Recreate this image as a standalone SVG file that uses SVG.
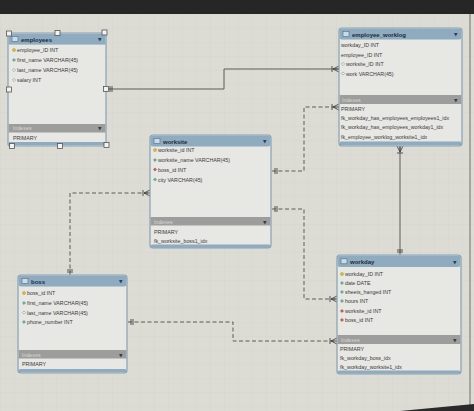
<svg xmlns="http://www.w3.org/2000/svg" width="474" height="411" viewBox="0 0 474 411">
<style>
.body{fill:#e7e7e3;stroke:#86a2b4;stroke-width:1.2}
.hd{fill:#8eabbf}
.ix{fill:#9d9d9b}
.bt{fill:#8eabbf}
.t{font-family:"Liberation Sans",Arial,sans-serif;font-size:5.3px;fill:#3a3a3a}
.h{font-family:"Liberation Sans",Arial,sans-serif;font-size:6px;font-weight:bold;fill:#1e2c3a}
.it{font-family:"Liberation Sans",Arial,sans-serif;font-size:5.3px;fill:#d8d8d8}
.ar{font-family:"DejaVu Sans",sans-serif;font-size:4.5px;fill:#2c3e50}
.ic{fill:#c9dbe8;stroke:#4d6f88;stroke-width:0.6}
.conn{fill:none;stroke:#5a5a5a;stroke-width:1}
.dash{stroke-dasharray:4 2.5}
.hdl{fill:#f2f2f2;stroke:#555;stroke-width:0.8}
.mk{fill:none;stroke:#444;stroke-width:0.9}
</style>
<defs>
<pattern id="grid" width="14" height="14" patternUnits="userSpaceOnUse">
<path d="M14 0H0V14" fill="none" stroke="#cfcfc8" stroke-width="0.5"/>
</pattern>
<marker id="crow" markerUnits="userSpaceOnUse" markerWidth="12" markerHeight="10" refX="10" refY="5" orient="auto" overflow="visible">
<path class="mk" d="M4 5L10 2M4 5L10 5M4 5L10 8M3 2V8"/>
</marker>
<marker id="one" markerUnits="userSpaceOnUse" markerWidth="12" markerHeight="10" refX="0" refY="5" orient="auto" overflow="visible">
<path class="mk" d="M3 2V8M5 2V8"/>
</marker>
<g id="key"><circle cx="0" cy="0" r="1.5" fill="#e7c23a" stroke="#9a7a10" stroke-width="0.4"/></g>
<g id="dfill"><path d="M0 -1.6L1.6 0L0 1.6L-1.6 0Z" fill="#5fb3a8" stroke="#3a7f76" stroke-width="0.4"/></g>
<g id="dhol"><path d="M0 -1.6L1.6 0L0 1.6L-1.6 0Z" fill="#f4f4f4" stroke="#777" stroke-width="0.5"/></g>
<g id="dfk"><path d="M0 -1.6L1.6 0L0 1.6L-1.6 0Z" fill="#c65a5a" stroke="#8a3030" stroke-width="0.4"/></g>
</defs>
<rect width="474" height="411" fill="#dcdcd5"/>
<rect width="474" height="411" fill="url(#grid)"/>
<rect width="474" height="14" fill="#262626"/>
<line x1="470" y1="14" x2="470" y2="411" stroke="#6f6f6f" stroke-width="1"/>
<path d="M400 411L474 404V411Z" fill="#2a2a2a"/>

<g id="connectors">
<path class="conn" d="M107 89H224V69H339" marker-start="url(#one)" marker-end="url(#crow)"/>
<path class="conn dash" d="M272 171H304V107H339" marker-start="url(#one)" marker-end="url(#crow)"/>
<path class="conn dash" d="M70 275V193H150" marker-start="url(#one)" marker-end="url(#crow)"/>
<path class="conn dash" d="M272 209H304V299H337" marker-start="url(#one)" marker-end="url(#crow)"/>
<path class="conn dash" d="M128 322H233V341H337" marker-start="url(#one)" marker-end="url(#crow)"/>
<path class="conn" d="M400 255V146" marker-start="url(#one)" marker-end="url(#crow)"/>
</g>

<g id="employees">
<rect class="body" x="8" y="33" width="98" height="113" rx="2"/>
<rect class="hd" x="8.6" y="33.6" width="96.8" height="11"/>
<rect class="ic" x="12" y="36.5" width="6" height="5"/>
<text class="h" x="21" y="41.5">employees</text>
<text class="ar" x="98" y="41">▼</text>
<use href="#key" x="14" y="50"/><text class="t" x="17" y="52">employee_ID INT</text>
<use href="#dfill" x="14" y="60"/><text class="t" x="17" y="62">first_name VARCHAR(45)</text>
<use href="#dhol" x="14" y="70"/><text class="t" x="17" y="72">last_name VARCHAR(45)</text>
<use href="#dhol" x="14" y="80"/><text class="t" x="17" y="82">salary INT</text>
<rect class="ix" x="8.6" y="124" width="96.8" height="8.5"/>
<text class="it" x="13" y="130">Indexes</text>
<text class="ar" x="98" y="130">▼</text>
<text class="t" x="13" y="140">PRIMARY</text>
<rect class="bt" x="8.6" y="142" width="96.8" height="3.4"/>
<rect class="hdl" x="6.5" y="31" width="5" height="5"/>
<rect class="hdl" x="55" y="30.5" width="5" height="5"/>
<rect class="hdl" x="102" y="30" width="5" height="5"/>
<rect class="hdl" x="6.5" y="87" width="5" height="5"/>
<rect class="hdl" x="103.5" y="86.5" width="5" height="5"/>
<rect class="hdl" x="9.5" y="143.5" width="5" height="5"/>
<rect class="hdl" x="57.5" y="143.5" width="5" height="5"/>
<rect class="hdl" x="104" y="142.5" width="5" height="5"/>
</g>

<g id="employee_worklog">
<rect class="body" x="339" y="28" width="123" height="118" rx="3"/>
<rect class="hd" x="339.6" y="28.6" width="121.8" height="11" rx="2.5"/>
<rect class="ic" x="343" y="31.5" width="6" height="5"/>
<text class="h" x="352" y="36.5">employee_worklog</text>
<text class="ar" x="454" y="36">▼</text>
<text class="t" x="341" y="47">workday_ID INT</text>
<text class="t" x="341" y="56.5">employee_ID INT</text>
<use href="#dhol" x="343" y="64"/><text class="t" x="346" y="66">worksite_ID INT</text>
<use href="#dhol" x="343" y="73.5"/><text class="t" x="346" y="75.5">work VARCHAR(45)</text>
<rect class="ix" x="339.6" y="95" width="121.8" height="9"/>
<text class="it" x="342" y="101.5">Indexes</text>
<text class="ar" x="454" y="101.5">▼</text>
<text class="t" x="341" y="111">PRIMARY</text>
<text class="t" x="341" y="120">fk_workday_has_employees_employees1_idx</text>
<text class="t" x="341" y="129">fk_workday_has_employees_workday1_idx</text>
<text class="t" x="341" y="138.5">fk_employee_worklog_worksite1_idx</text>
<rect class="bt" x="339.6" y="141.5" width="121.8" height="4" rx="1.5"/>
</g>

<g id="worksite">
<rect class="body" x="150" y="135" width="121" height="113" rx="3"/>
<rect class="hd" x="150.6" y="135.6" width="119.8" height="11" rx="2.5"/>
<rect class="ic" x="154" y="138.5" width="6" height="5"/>
<text class="h" x="163" y="143.5">worksite</text>
<text class="ar" x="263" y="143">▼</text>
<use href="#key" x="155" y="150"/><text class="t" x="158" y="152">worksite_id INT</text>
<use href="#dfill" x="155" y="160"/><text class="t" x="158" y="162">worksite_name VARCHAR(45)</text>
<use href="#dfk" x="155" y="169.5"/><text class="t" x="158" y="171.5">boss_id INT</text>
<use href="#dfill" x="155" y="179.5"/><text class="t" x="158" y="181.5">city VARCHAR(45)</text>
<rect class="ix" x="150.6" y="217" width="119.8" height="8.5"/>
<text class="it" x="154" y="223.5">Indexes</text>
<text class="ar" x="263" y="223.5">▼</text>
<text class="t" x="154" y="234">PRIMARY</text>
<text class="t" x="154" y="243">fk_worksite_boss1_idx</text>
<rect class="bt" x="150.6" y="244.5" width="119.8" height="3.4" rx="1.5"/>
</g>

<g id="boss">
<rect class="body" x="18" y="275" width="109" height="98" rx="3"/>
<rect class="hd" x="18.6" y="275.6" width="107.8" height="11" rx="2.5"/>
<rect class="ic" x="22" y="278.5" width="6" height="5"/>
<text class="h" x="31" y="283.5">boss</text>
<text class="ar" x="119" y="283">▼</text>
<use href="#key" x="24" y="293"/><text class="t" x="27" y="295">boss_id INT</text>
<use href="#dfill" x="24" y="303"/><text class="t" x="27" y="305">first_name VARCHAR(45)</text>
<use href="#dhol" x="24" y="312.5"/><text class="t" x="27" y="314.5">last_name VARCHAR(45)</text>
<use href="#dfill" x="24" y="322"/><text class="t" x="27" y="324">phone_number INT</text>
<rect class="ix" x="18.6" y="350" width="107.8" height="8.5"/>
<text class="it" x="22" y="356.5">Indexes</text>
<text class="ar" x="119" y="356.5">▼</text>
<text class="t" x="22" y="366">PRIMARY</text>
<rect class="bt" x="18.6" y="369" width="107.8" height="3.6" rx="1.5"/>
</g>

<g id="workday">
<rect class="body" x="337" y="255" width="124" height="119" rx="3"/>
<rect class="hd" x="337.6" y="255.6" width="122.8" height="11.5" rx="2.5"/>
<rect class="ic" x="341" y="258.8" width="6" height="5"/>
<text class="h" x="350" y="264">workday</text>
<text class="ar" x="453" y="263.5">▼</text>
<use href="#key" x="342" y="274"/><text class="t" x="345" y="276">workday_ID INT</text>
<use href="#dfill" x="342" y="283"/><text class="t" x="345" y="285">date DATE</text>
<use href="#dfill" x="342" y="292"/><text class="t" x="345" y="294">sheets_hanged INT</text>
<use href="#dfill" x="342" y="301"/><text class="t" x="345" y="303">hours INT</text>
<use href="#dfk" x="342" y="311"/><text class="t" x="345" y="313">worksite_id INT</text>
<use href="#dfk" x="342" y="320"/><text class="t" x="345" y="322">boss_id INT</text>
<rect class="ix" x="337.6" y="335" width="122.8" height="9"/>
<text class="it" x="341" y="341.5">Indexes</text>
<text class="ar" x="453" y="341.5">▼</text>
<text class="t" x="340" y="351">PRIMARY</text>
<text class="t" x="340" y="360">fk_workday_boss_idx</text>
<text class="t" x="340" y="369">fk_workday_worksite1_idx</text>
<rect class="bt" x="337.6" y="370.5" width="122.8" height="3.2" rx="1.5"/>
</g>
</svg>
